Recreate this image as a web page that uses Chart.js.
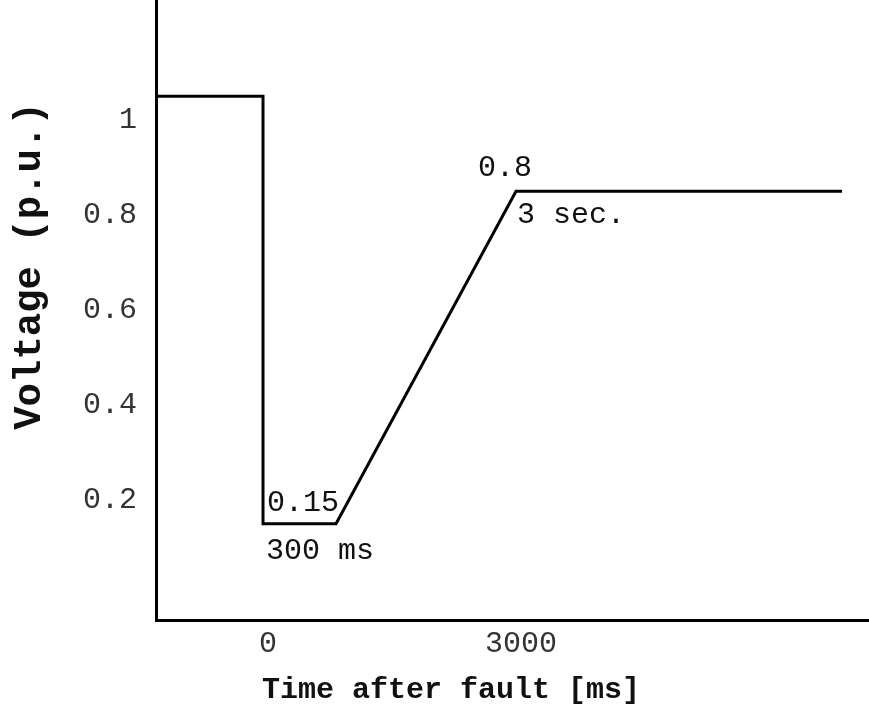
<!DOCTYPE html>
<html>
<head>
<meta charset="utf-8">
<script src="https://cdn.jsdelivr.net/npm/chart.js@4/dist/chart.umd.min.js"></script>
<style>
  body { margin: 0; background: #fff; }
  #wrap { width: 869px; height: 715px; }
</style>
</head>
<body>
<div id="wrap"><canvas id="fault-chart"></canvas></div>
<script>
// voltage profile after a fault
const timeMs = [-1269, 0, 0, 866, 3000, 6866];
const voltagePu = [1.05, 1.05, 0.15, 0.15, 0.85, 0.85];
const yTicks = [0.2, 0.4, 0.6, 0.8, 1];
const xTicks = [0, 3000];
const notes = ['0.15', '300 ms', '0.8', '3 sec.'];
const noteAt = [2, 2, 4, 4]; // index of the point each note hangs from

const ctx = document.getElementById('fault-chart');

var points = [];
for (let i = 0; i < timeMs.length; i++) {
    points.push({x: timeMs[i], y: voltagePu[i]});
}

const mono = '"Liberation Mono", "DejaVu Sans Mono", monospace';

// notes next to the corners and the two axis titles
const notesPlugin = {
    id: 'notes',
    afterDatasetsDraw(chart) {
        const c = chart.ctx;
        const x = chart.scales.x, y = chart.scales.y;
        const area = chart.chartArea;
        const offs = [[4, -21, 'left'], [3, 27, 'left'], [16, -23, 'right'], [1, 24, 'left']];
        c.save();
        c.fillStyle = '#111';
        c.textBaseline = 'middle';
        c.font = '30px ' + mono;
        notes.forEach((t, i) => {
            const p = noteAt[i];
            const px = x.getPixelForValue(timeMs[p]);
            const py = y.getPixelForValue(voltagePu[p]);
            c.textAlign = offs[i][2];
            c.fillText(t, px + offs[i][0], py + offs[i][1]);
        });
        c.textAlign = 'center';
        c.font = 'bold 30px ' + mono;
        c.fillText('Time after fault [ms]', area.left + 295, area.bottom + 70);
        c.translate(area.left - 126, area.top + 266);
        c.rotate(-Math.PI / 2);
        c.font = 'bold 39px ' + mono;
        c.fillText('Voltage (p.u.)', 0, 0);
        c.restore();
    }
};

// no extra room round the axes: the lines run to the canvas edges
function noPad(s) {
    s.paddingTop = 0;
    s.paddingBottom = 0;
    s.paddingLeft = 0;
    s.paddingRight = 0;
}

const data = {
    datasets: [
      {
        label: 'Voltage',
        data: points,
        borderColor: '#000',
        borderWidth: 3,
        pointRadius: 0,
        fill: false,
        tension: 0
      }
    ]
};

const config = {
    type: 'line',
    data: data,
    options: {
      responsive: true,
      maintainAspectRatio: false,
      animation: false,
      layout: { padding: 0 },
      plugins: {
        legend: { display: false },
        tooltip: { enabled: false }
      },
      scales: {
        x: {
          type: 'linear',
          min: -1269,
          max: 7186,
          afterBuildTicks: (s) => { s.ticks = xTicks.map(v => ({value: v})); },
          afterFit: (s) => { s.height = 95; noPad(s); },
          grid: { display: false, drawTicks: false },
          border: { display: true, color: '#000', width: 3 },
          ticks: {
            color: '#333',
            padding: 6,
            labelOffset: 5,
            maxRotation: 0,
            font: { family: mono, size: 30 },
            callback: (v) => String(v)
          }
        },
        y: {
          min: -0.0526,
          max: 1.2526,
          afterBuildTicks: (s) => { s.ticks = yTicks.map(v => ({value: v})); },
          afterFit: (s) => { s.width = 156; noPad(s); },
          grid: { display: false, drawTicks: false },
          border: { display: true, color: '#000', width: 3 },
          ticks: {
            color: '#333',
            padding: 19,
            font: { family: mono, size: 30 },
            callback: (v) => String(v)
          }
        }
      }
    },
    plugins: [notesPlugin]
};

new Chart(ctx, config);
</script>
</body>
</html>
